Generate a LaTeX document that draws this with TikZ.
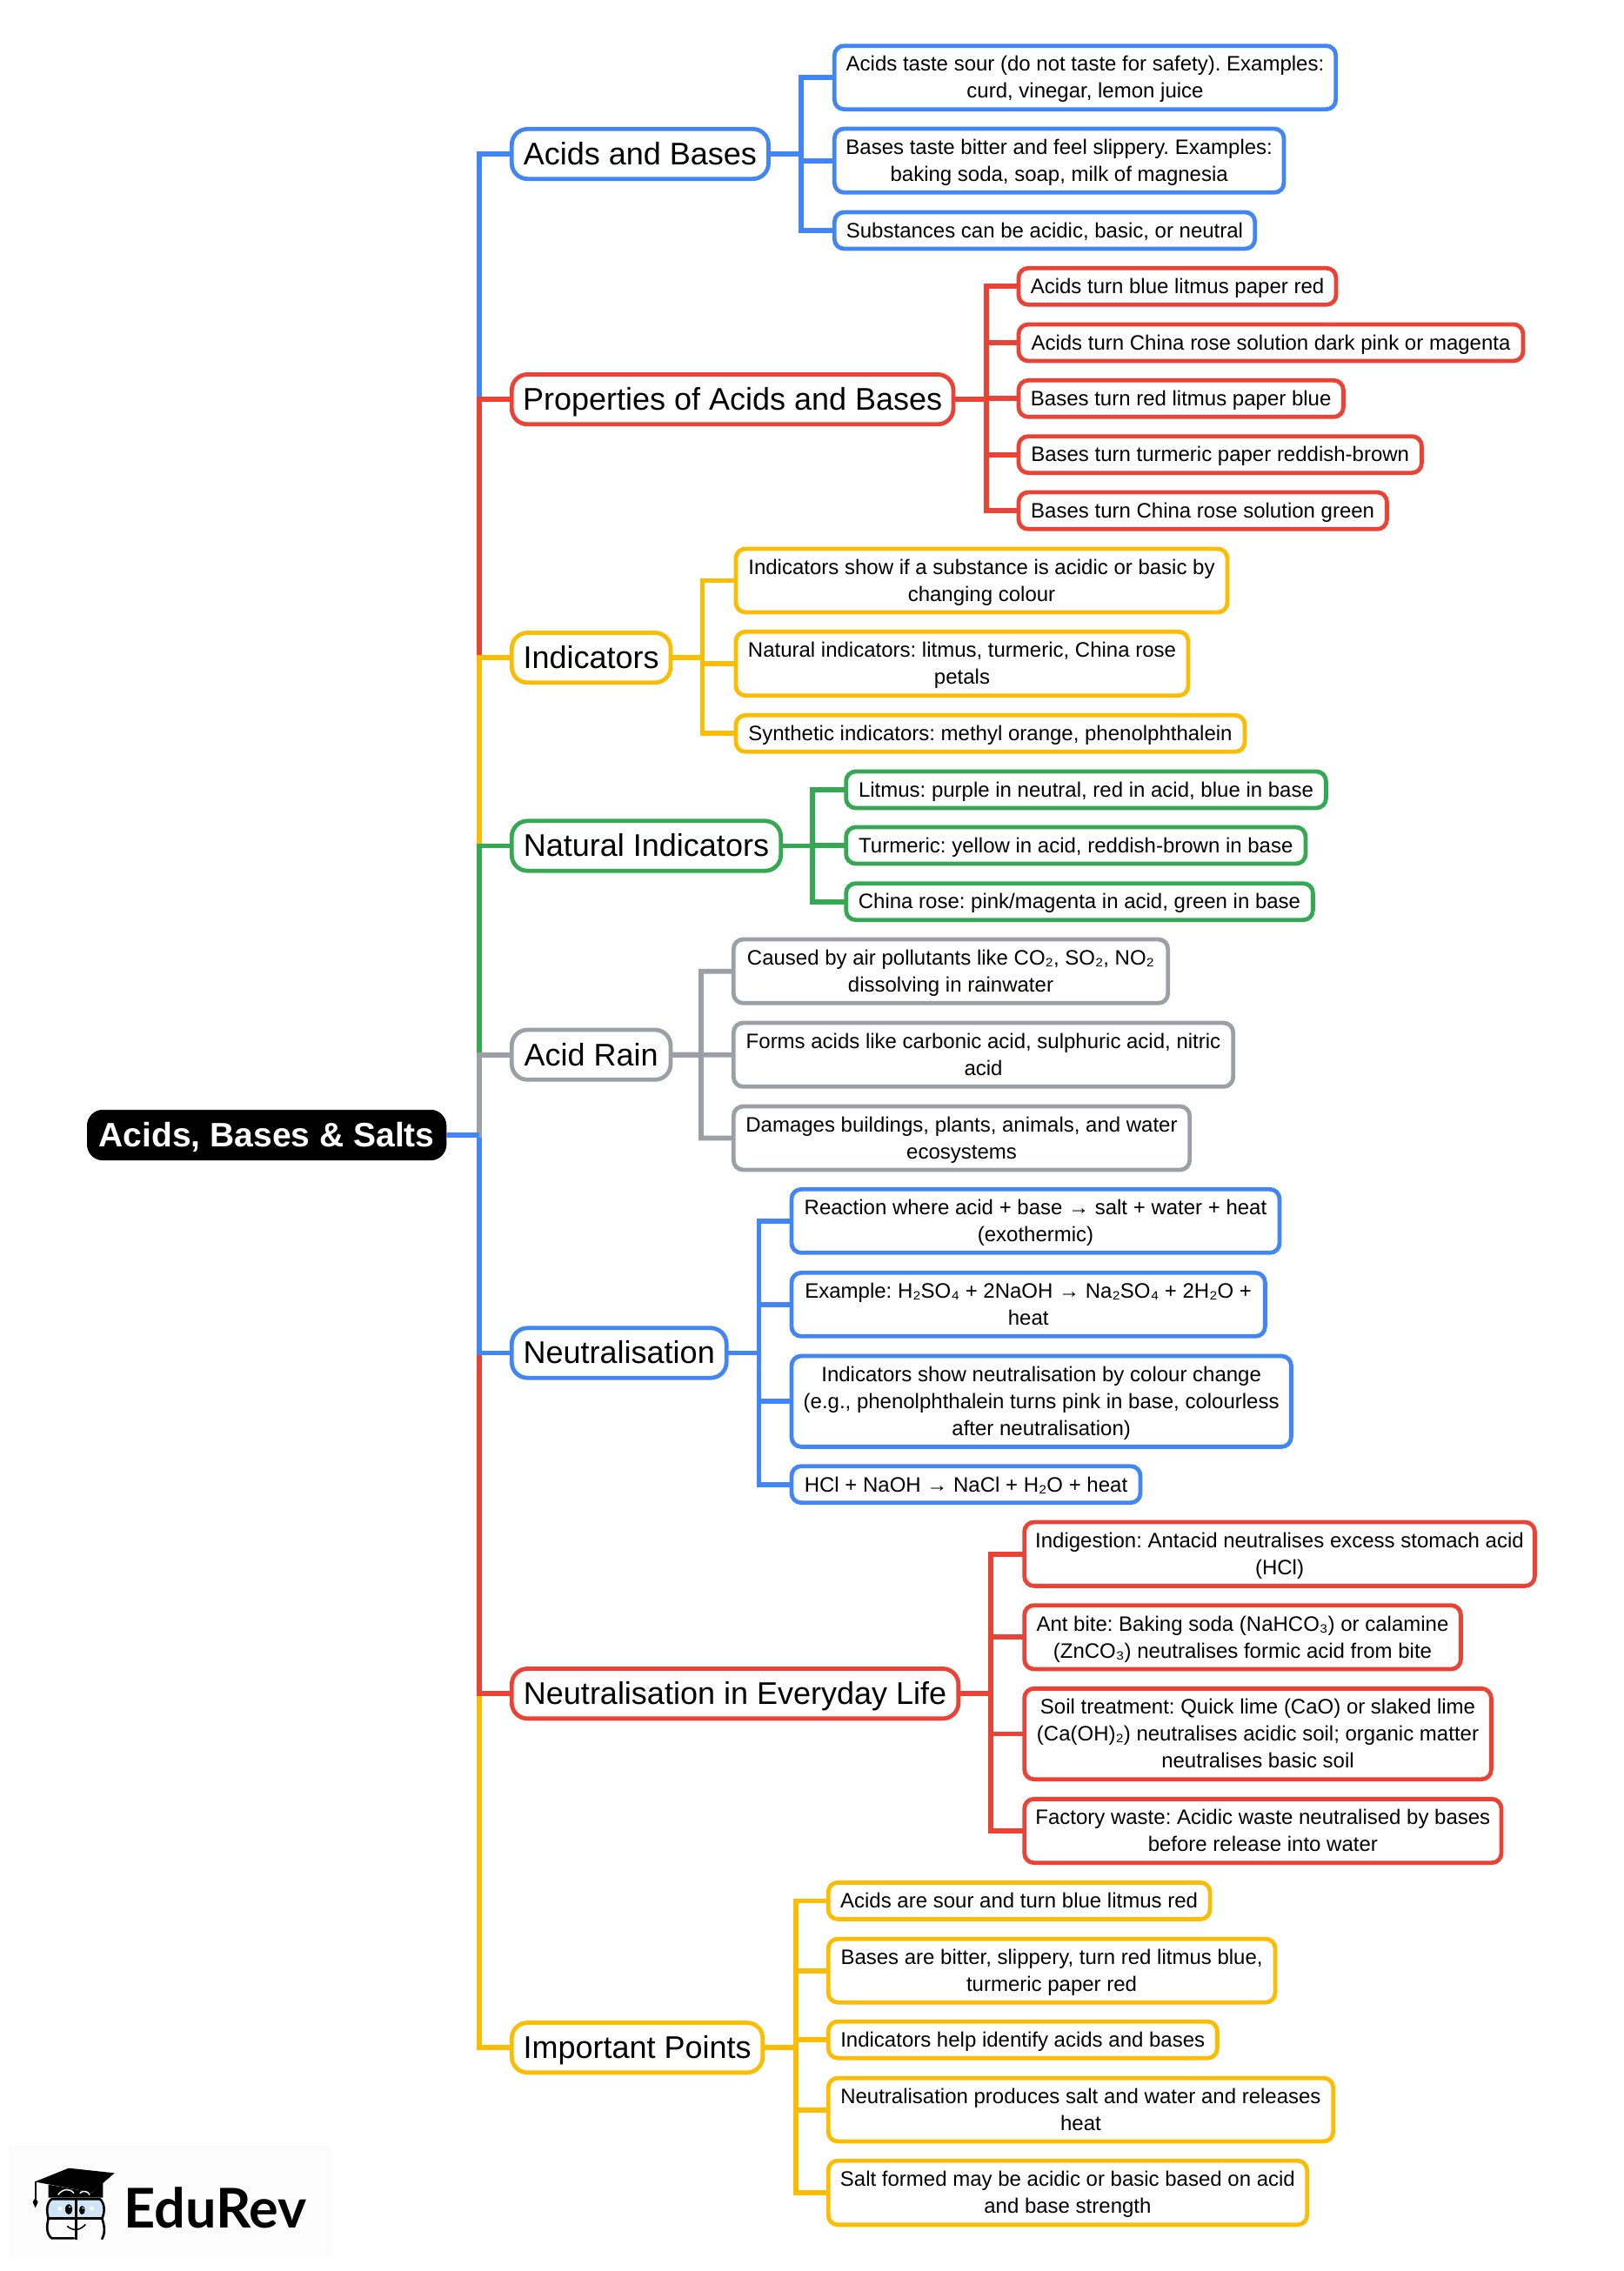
\documentclass[tikz,border=0pt]{standalone}
\usepackage{fontspec}
\setmainfont{Liberation Sans}
\newfontfamily\logofont{Lato}
\frenchspacing
\definecolor{cblue}{HTML}{4285F4}
\definecolor{cred}{HTML}{EA4335}
\definecolor{cyel}{HTML}{FBBC04}
\definecolor{cgrn}{HTML}{34A853}
\definecolor{cgry}{HTML}{9AA0A6}
\definecolor{clight}{HTML}{CFE5F5}
\tikzset{
  box/.style={draw,rectangle,fill=white,text=black,outer sep=0pt,inner sep=0pt,align=center,line width=2.4pt},
  leaf/.style={box,rounded corners=5.5pt,font=\fontsize{12}{15.5}\selectfont},
  branch/.style={box,rounded corners=9pt,font=\fontsize{18}{20}\selectfont},
  rootbox/.style={draw=black,fill=black,text=white,rectangle,rounded corners=9pt,outer sep=0pt,inner sep=0pt,font=\fontsize{19.5}{20}\selectfont\bfseries},
  link/.style={line width=2.9pt,line join=miter},
  lw/.style={line width=1.3pt,line cap=round,line join=round,black}
}
% fixed ascent and descent, so that text is centred by its line box whatever its letters
\newcommand\asc{\rule{0pt}{0.905em}}
\newcommand\dsc{\rule[-0.212em]{0pt}{0.212em}}
% name, x1, y1, x2, y2 (border centre lines), style+colour, text
\newcommand\bx[7]{\node[#6,minimum width={(#4+0.6-#2)*0.83333pt},minimum height={(#5-#3)*0.83333pt}] (#1) at ({(#2+#4+0.6)/2},{(#3+#5)/2}) {\asc#7\dsc};}
\begin{document}
\begin{tikzpicture}[x=0.83333pt,y=-0.83333pt]
\useasboundingbox (0,0) rectangle (1119.6,1566.6);
% root
\node[rootbox,minimum width={247.5*0.83333pt},minimum height={34.5*0.83333pt}] (root) at (184,783) {\asc Acids, Bases \& Salts\dsc};
% branches
\bx{a}{353}{89}{529.5}{123.4}{branch,draw=cblue}{Acids and Bases}
\bx{p}{353}{258.3}{657}{292.7}{branch,draw=cred}{Properties of Acids and Bases}
\bx{i}{353}{436.5}{462}{470.9}{branch,draw=cyel}{Indicators}
\bx{n}{353}{566.3}{538}{600.7}{branch,draw=cgrn}{Natural Indicators}
\bx{r}{353}{710.4}{462}{744.8}{branch,draw=cgry}{Acid Rain}
\bx{u}{353}{916.1}{500.5}{950.5}{branch,draw=cblue}{Neutralisation}
\bx{e}{353}{1151.1}{660.5}{1185.5}{branch,draw=cred}{Neutralisation in Everyday Life}
\bx{m}{353}{1395.3}{525.5}{1429.7}{branch,draw=cyel}{Important Points}
% leaves
\bx{a1}{575.6}{31.6}{920.8}{75.4}{leaf,draw=cblue}{Acids taste sour (do not taste for safety). Examples:\\curd, vinegar, lemon juice}
\bx{a2}{575.6}{88.8}{885}{132.8}{leaf,draw=cblue}{Bases taste bitter and feel slippery. Examples:\\baking soda, soap, milk of magnesia}
\bx{a3}{575.6}{146.4}{865}{171.6}{leaf,draw=cblue}{Substances can be acidic, basic, or neutral}
\bx{p1}{702.6}{185}{921}{210.2}{leaf,draw=cred}{Acids turn blue litmus paper red}
\bx{p2}{702.6}{223.8}{1050}{249}{leaf,draw=cred}{Acids turn China rose solution dark pink or magenta}
\bx{p3}{702.6}{262.4}{926}{287.6}{leaf,draw=cred}{Bases turn red litmus paper blue}
\bx{p4}{702.6}{301}{980}{326.2}{leaf,draw=cred}{Bases turn turmeric paper reddish-brown}
\bx{p5}{702.6}{339.6}{956}{365}{leaf,draw=cred}{Bases turn China rose solution green}
\bx{i1}{507.6}{378.6}{846}{422.4}{leaf,draw=cyel}{Indicators show if a substance is acidic or basic by\\changing colour}
\bx{i2}{507.6}{435.8}{819}{479.8}{leaf,draw=cyel}{Natural indicators: litmus, turmeric, China rose\\petals}
\bx{i3}{507.6}{493.4}{858}{518.6}{leaf,draw=cyel}{Synthetic indicators: methyl orange, phenolphthalein}
\bx{n1}{583.6}{532.2}{914}{557.4}{leaf,draw=cgrn}{Litmus: purple in neutral, red in acid, blue in base}
\bx{n2}{583.6}{570.6}{900}{595.8}{leaf,draw=cgrn}{Turmeric: yellow in acid, reddish-brown in base}
\bx{n3}{583.6}{609.4}{905}{634.6}{leaf,draw=cgrn}{China rose: pink/magenta in acid, green in base}
\bx{r1}{506}{648}{805}{692}{leaf,draw=cgry}{Caused by air pollutants like CO₂, SO₂, NO₂\\dissolving in rainwater}
\bx{r2}{506}{705.6}{850}{749.6}{leaf,draw=cgry}{Forms acids like carbonic acid, sulphuric acid, nitric\\acid}
\bx{r3}{506}{763.2}{820}{807}{leaf,draw=cgry}{Damages buildings, plants, animals, and water\\ecosystems}
\bx{u1}{546}{820.4}{882}{864.2}{leaf,draw=cblue}{Reaction where acid + base → salt + water + heat\\(exothermic)}
\bx{u2}{546}{878}{872}{921.8}{leaf,draw=cblue}{Example: H₂SO₄ + 2NaOH → Na₂SO₄ + 2H₂O +\\heat}
\bx{u3}{546}{935.4}{890}{998}{leaf,draw=cblue}{Indicators show neutralisation by colour change\\(e.g., phenolphthalein turns pink in base, colourless\\after neutralisation)}
\bx{u4}{546}{1011.4}{786}{1036.6}{leaf,draw=cblue}{HCl + NaOH → NaCl + H₂O + heat}
\bx{e1}{706.6}{1050}{1058}{1094}{leaf,draw=cred}{Indigestion: Antacid neutralises excess stomach acid\\(HCl)}
\bx{e2}{706.6}{1107.4}{1007}{1151.4}{leaf,draw=cred}{Ant bite: Baking soda (NaHCO₃) or calamine\\(ZnCO₃) neutralises formic acid from bite}
\bx{e3}{706.6}{1164.8}{1028}{1227.4}{leaf,draw=cred}{Soil treatment: Quick lime (CaO) or slaked lime\\(Ca(OH)₂) neutralises acidic soil; organic matter\\neutralises basic soil}
\bx{e4}{706.6}{1241}{1035}{1285}{leaf,draw=cred}{Factory waste: Acidic waste neutralised by bases\\before release into water}
\bx{m1}{571.3}{1298.6}{834}{1323.9}{leaf,draw=cyel}{Acids are sour and turn blue litmus red}
\bx{m2}{571.3}{1337.5}{879}{1381.3}{leaf,draw=cyel}{Bases are bitter, slippery, turn red litmus blue,\\turmeric paper red}
\bx{m3}{571.3}{1394.5}{839}{1419.7}{leaf,draw=cyel}{Indicators help identify acids and bases}
\bx{m4}{571.3}{1433.5}{919}{1477.2}{leaf,draw=cyel}{Neutralisation produces salt and water and releases\\heat}
\bx{m5}{571.3}{1490.5}{901}{1534.7}{leaf,draw=cyel}{Salt formed may be acidic or basic based on acid\\and base strength}
% trunk
\coordinate (tr) at (330.5,783);
\draw[link,cyel] (root.east) -- (tr) |- (m.west);
\draw[link,cred] (root.east) -- (tr) |- (e.west);
\draw[link,cblue] (root.east) -- (tr) |- (u.west);
\draw[link,cblue] (root.east) -- (tr) |- (a.west);
\draw[link,cred] (root.east) -- (tr) |- (p.west);
\draw[link,cyel] (root.east) -- (tr) |- (i.west);
\draw[link,cgrn] (root.east) -- (tr) |- (n.west);
\draw[link,cgry] (root.east) -- (tr) |- (r.west);
\draw[link,cblue] (root.east) -- (tr);
% sub-branches
\coordinate (ja) at (552.5,106.2);
\coordinate (jp) at (680.5,275.5);
\coordinate (ji) at (484.5,453.7);
\coordinate (jn) at (560.5,583.5);
\coordinate (jr) at (483.6,727.6);
\coordinate (ju) at (523.5,933.3);
\coordinate (je) at (683.5,1168.3);
\coordinate (jm) at (548.8,1412.5);
\foreach \c in {a1,a2,a3} \draw[link,cblue] (a.east) -- (ja) |- (\c.west);
\foreach \c in {p1,p2,p3,p4,p5} \draw[link,cred] (p.east) -- (jp) |- (\c.west);
\foreach \c in {i1,i2,i3} \draw[link,cyel] (i.east) -- (ji) |- (\c.west);
\foreach \c in {n1,n2,n3} \draw[link,cgrn] (n.east) -- (jn) |- (\c.west);
\foreach \c in {r1,r2,r3} \draw[link,cgry] (r.east) -- (jr) |- (\c.west);
\foreach \c in {u1,u2,u3,u4} \draw[link,cblue] (u.east) -- (ju) |- (\c.west);
\foreach \c in {e1,e2,e3,e4} \draw[link,cred] (e.east) -- (je) |- (\c.west);
\foreach \c in {m1,m2,m3,m4,m5} \draw[link,cyel] (m.east) -- (jm) |- (\c.west);
% logo, in units of 1/3 reference pixel
\begin{scope}[shift={(0pt,-1210pt)},x=0.16667pt,y=-0.16667pt]
\fill[black!1] (30,140) rectangle (1140,525);
% book / face
\fill[clight] (167,325) rectangle (356,392);
\draw[lw] (167,392) .. controls (160,365) and (160,340) .. (178,325) -- (345,325) .. controls (362,340) and (362,370) .. (352,392);
\draw[lw] (167,392) -- (352,392);
\draw[lw] (167,392) .. controls (160,420) and (160,445) .. (178,460) -- (255,460);
\draw[lw] (352,392) .. controls (362,420) and (362,445) .. (352,462);
\draw[black,line width=1.3pt] (262,322) -- (262,464);
% cap
\fill[black] (167,275) -- (167,320) -- (355,320) -- (355,268) -- (318,302) -- cycle;
\fill[black] (120,265) -- (237,218) -- (395,235) -- (318,302) -- cycle;
\draw[black,line width=1pt] (122,265) -- (122,325);
\fill[black] (122,320) -- (131,335) -- (122,355) -- (113,335) -- cycle;
\draw[white,line width=0.7pt] (200,310) .. controls (215,290) and (240,285) .. (255,305);
\draw[white,line width=0.7pt] (275,305) .. controls (285,295) and (300,295) .. (310,310);
% eyes and smile
\fill[black] (237,360) ellipse [x radius=12,y radius=18];
\fill[black] (283,363) ellipse [x radius=10,y radius=15];
\fill[white] (240,352) circle (3);
\fill[white] (286,356) circle (3);
\fill[white] (207,358) circle (7);
\fill[white] (316,358) circle (7);
\draw[black,line width=0.8pt] (232,418) .. controls (250,435) and (275,435) .. (295,412);
\node[anchor=base west,inner sep=0pt,font=\logofont\bfseries\fontsize{31.5}{30}\selectfont] (logo) at (425,425) {EduRev};
\end{scope}
\end{tikzpicture}
\end{document}
